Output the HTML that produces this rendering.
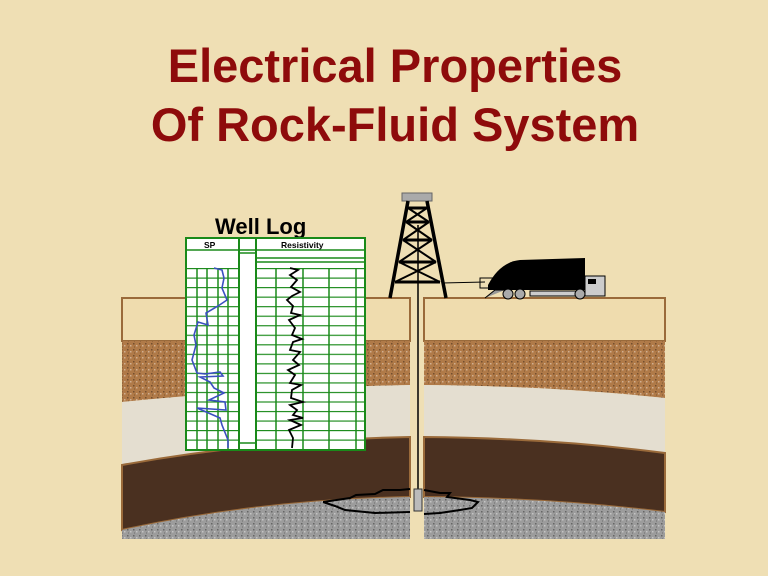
<!DOCTYPE html>
<html><head><meta charset="utf-8"><style>
html,body{margin:0;padding:0;width:768px;height:576px;overflow:hidden;background:#efdfb4}
</style></head><body>
<svg width="768" height="576" viewBox="0 0 768 576" xmlns="http://www.w3.org/2000/svg">
<defs>
<pattern id="rows" x="0" y="268" width="10" height="9.53" patternUnits="userSpaceOnUse">
<line x1="0" y1="0.5" x2="10" y2="0.5" stroke="#1a8a1a" stroke-width="1.3"/>
</pattern>
<pattern id="speck" width="6" height="6" patternUnits="userSpaceOnUse">
<rect x="1" y="1" width="1.5" height="1.5" fill="#000" opacity="0.35"/>
<rect x="4" y="3" width="1.5" height="1.5" fill="#fff" opacity="0.4"/>
<rect x="2" y="4.5" width="1" height="1" fill="#000" opacity="0.3"/>
</pattern>
</defs>
<rect width="768" height="576" fill="#efdfb4"/>
<text x="395" y="82" text-anchor="middle" font-family="Liberation Sans, sans-serif" font-weight="bold" font-size="47" fill="#8e0b0b">Electrical Properties</text>
<text x="395" y="141" text-anchor="middle" font-family="Liberation Sans, sans-serif" font-weight="bold" font-size="47" fill="#8e0b0b">Of Rock-Fluid System</text>

<!-- left block layers -->
<g>
<rect x="122" y="298" width="288" height="43" fill="#efdcae" stroke="#9a6a3a" stroke-width="2"/>
<path d="M122,341 L410,341 L410,385 Q260,388 122,402 Z" fill="#b07a48"/>
<path d="M122,341 L410,341 L410,385 Q260,388 122,402 Z" fill="url(#speck)"/>
<path d="M122,402 Q260,388 410,385 L410,437 Q260,440 122,465 Z" fill="#e4ded0"/>
<path d="M122,465 Q260,440 410,437 L410,497 Q260,500 122,530 Z" fill="#4a3020" stroke="#9a6a3a" stroke-width="2"/>
<path d="M122,530 Q260,500 410,497 L410,539 L122,539 Z" fill="#9c9c9c"/>
<path d="M122,530 Q260,500 410,497 L410,539 L122,539 Z" fill="url(#speck)"/>
</g>
<!-- right block layers -->
<g>
<rect x="424" y="298" width="241" height="43" fill="#efdcae" stroke="#9a6a3a" stroke-width="2"/>
<path d="M424,341 L665,341 L665,398 Q550,386 424,385 Z" fill="#b07a48"/>
<path d="M424,341 L665,341 L665,398 Q550,386 424,385 Z" fill="url(#speck)"/>
<path d="M424,385 Q550,386 665,398 L665,453 Q550,438 424,437 Z" fill="#e4ded0"/>
<path d="M424,437 Q550,438 665,453 L665,512 Q550,498 424,497 Z" fill="#4a3020" stroke="#9a6a3a" stroke-width="2"/>
<path d="M424,497 Q550,498 665,512 L665,539 L424,539 Z" fill="#9c9c9c"/>
<path d="M424,497 Q550,498 665,512 L665,539 L424,539 Z" fill="url(#speck)"/>
</g>
<!-- reservoir lens -->
<path d="M323,502 L350,498 L356,495 L375,494 L383,490 L400,490 L410,489 M424,490 L440,493 L450,493 L447,497 L470,500 L478,502 L472,508 L460,510 L440,513 L424,514 M410,512 L375,513 L345,510 L335,506 L323,502" fill="none" stroke="#000" stroke-width="2"/>
<!-- pipe -->
<line x1="418" y1="225" x2="418" y2="490" stroke="#000" stroke-width="1.5"/>
<rect x="414" y="489" width="8" height="22" fill="#bbb" stroke="#333"/>

<!-- derrick -->
<g stroke="#000" fill="none">
<rect x="402" y="193" width="30" height="8" fill="#aaa" stroke="#666"/>
<path d="M408,201 L390,298 M427,201 L446,298" stroke-width="3.5"/>
<path d="M408,208 L427,208 M406,222 L429,222 M403,240 L432,240 M399,262 L436,262 M395,282 L440,282" stroke-width="3"/>
<path d="M408,208 L429,222 M427,208 L406,222 M406,222 L432,240 M429,222 L403,240 M403,240 L436,262 M432,240 L399,262 M399,262 L440,282 M436,262 L395,282" stroke-width="2"/>
</g>
<line x1="442" y1="283" x2="485" y2="282" stroke="#000"/>
<!-- truck -->
<g>
<path d="M488,285 Q500,262 520,260 L585,258 L585,290 L488,290 Z" fill="#000"/>
<rect x="480" y="278" width="20" height="10" fill="none" stroke="#000"/>
<rect x="585" y="276" width="20" height="20" fill="#ccc" stroke="#000"/>
<rect x="588" y="279" width="8" height="5" fill="#000"/>
<rect x="530" y="291" width="50" height="5" fill="#ccc" stroke="#000"/>
<circle cx="508" cy="294" r="5" fill="#aaa" stroke="#000"/>
<circle cx="520" cy="294" r="5" fill="#aaa" stroke="#000"/>
<circle cx="580" cy="294" r="5" fill="#aaa" stroke="#000"/>
<path d="M485,298 L495,290 L505,290" stroke="#000" fill="#999"/>
</g>

<!-- well log -->
<text x="215" y="234" font-family="Liberation Sans, sans-serif" font-weight="bold" font-size="22" fill="#000">Well Log</text>
<g>
<rect x="186" y="238" width="179" height="212" fill="#fff" stroke="#1a8a1a" stroke-width="2"/>
<rect x="186" y="268" width="53" height="182" fill="url(#rows)"/>
<rect x="256" y="268" width="109" height="182" fill="url(#rows)"/>
<g stroke="#1a8a1a" stroke-width="1.5">
<line x1="186" y1="250" x2="239" y2="250"/>
<line x1="256" y1="250" x2="365" y2="250"/>
<line x1="256" y1="258" x2="365" y2="258"/>
<line x1="256" y1="262" x2="365" y2="262"/>
<line x1="239" y1="250" x2="256" y2="250"/>
<line x1="239" y1="253" x2="256" y2="253"/>
<line x1="239" y1="443" x2="256" y2="443"/>
<line x1="239" y1="238" x2="239" y2="450" stroke-width="2"/>
<line x1="256" y1="238" x2="256" y2="450" stroke-width="2"/>
<line x1="197" y1="268" x2="197" y2="450"/>
<line x1="207" y1="268" x2="207" y2="450"/>
<line x1="218" y1="268" x2="218" y2="450"/>
<line x1="228" y1="268" x2="228" y2="450"/>
<line x1="276" y1="268" x2="276" y2="450"/>
<line x1="303" y1="268" x2="303" y2="450"/>
<line x1="329" y1="268" x2="329" y2="450"/>
<line x1="356" y1="268" x2="356" y2="450"/>
</g>
<text x="204" y="248" font-family="Liberation Sans, sans-serif" font-weight="bold" font-size="8.5" fill="#000">SP</text>
<text x="281" y="248" font-family="Liberation Sans, sans-serif" font-weight="bold" font-size="8.5" fill="#000">Resistivity</text>
<path d="M214,268 L222,270 L224,278 L222,288 L227,300 L218,306 L206,313 L208,325 L198,322 L194,335 L196,345 L192,360 L197,373 L205,374 L220,372 L223,376 L200,377 L210,382 L214,388 L224,393 L209,400 L225,402 L226,410 L197,408 L220,418 L222,425 L228,440 L228,448" fill="none" stroke="#3b4fc0" stroke-width="1.6"/>
<path d="M290,268 L298,270 L290,275 L297,280 L291,287 L300,292 L292,296 L287,300 L293,306 L291,313 L300,315 L289,320 L295,328 L292,335 L302,339 L293,342 L290,350 L300,352 L293,360 L299,365 L288,370 L295,375 L290,383 L301,385 L292,390 L291,398 L303,402 L290,405 L297,410 L293,415 L303,418 L290,420 L301,425 L289,430 L293,438 L292,448" fill="none" stroke="#000" stroke-width="1.8"/>
</g>
</svg>
</body></html>
